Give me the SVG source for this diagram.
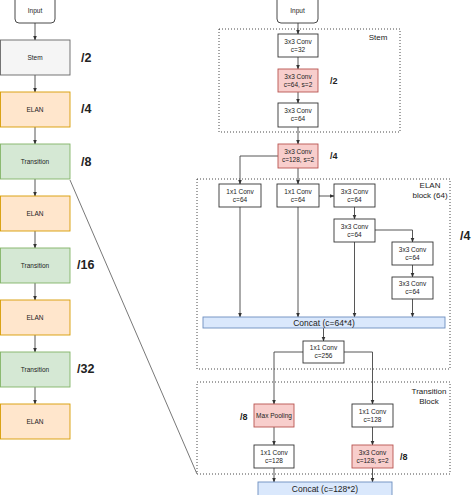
<svg xmlns="http://www.w3.org/2000/svg" width="474" height="495" viewBox="0 0 474 495">
<defs>
<marker id="ah" viewBox="0 0 10 10" refX="9" refY="5" markerWidth="5" markerHeight="5" orient="auto" markerUnits="userSpaceOnUse"><path d="M0,1 L10,5 L0,9 Z" fill="#333"/></marker>
<style>
text{font-family:"Liberation Sans",Arial,sans-serif;fill:#222;text-anchor:middle;}
.t{font-size:6.5px;}
.lt{font-size:8px;}
.big{font-size:12.5px;font-weight:bold;text-anchor:start;}
.mid{font-size:9px;font-weight:bold;text-anchor:start;}
.w{fill:#fff;stroke:#333;stroke-width:0.9;}
.p{fill:#f8cecc;stroke:#b85450;stroke-width:0.9;}
.g{fill:#f5f5f5;stroke:#666;stroke-width:0.9;}
.o{fill:#ffe6cc;stroke:#d79b00;stroke-width:0.9;}
.gr{fill:#d5e8d4;stroke:#82b366;stroke-width:0.9;}
.b{fill:#dae8fc;stroke:#6c8ebf;stroke-width:0.9;}
.d{fill:none;stroke:#333;stroke-width:0.9;stroke-dasharray:1 2;}
.c{fill:none;stroke:#444;stroke-width:0.9;marker-end:url(#ah);}
</style>
</defs>
<rect width="474" height="495" fill="#fff"/>

<!-- dashed group frames -->
<g id="stem-block"><rect class="d" x="219" y="29" width="181" height="103"/><text class="lt" x="378" y="40">Stem</text></g>
<g id="elan-block"><rect class="d" x="197" y="179" width="253" height="190"/><text class="lt" x="430" y="188">ELAN</text><text class="lt" x="430" y="198">block (64)</text></g>
<g id="transition-block"><rect class="d" x="197" y="382" width="253" height="92"/><text class="lt" x="429" y="394">Transition</text><text class="lt" x="429" y="404">Block</text></g>

<!-- connectors -->
<g id="connectors">
<line class="c" x1="35" y1="23" x2="35" y2="40"/>
<line class="c" x1="35" y1="75" x2="35" y2="92"/>
<line class="c" x1="35" y1="127" x2="35" y2="144"/>
<line class="c" x1="35" y1="179" x2="35" y2="196"/>
<line class="c" x1="35" y1="231" x2="35" y2="248"/>
<line class="c" x1="35" y1="283" x2="35" y2="300"/>
<line class="c" x1="35" y1="335" x2="35" y2="352"/>
<line class="c" x1="35" y1="387" x2="35" y2="404"/>
<line x1="70" y1="180" x2="197" y2="474" stroke="#555" stroke-width="0.8"/>

<line class="c" x1="298" y1="23" x2="298" y2="34"/>
<line class="c" x1="298" y1="57" x2="298" y2="69"/>
<line class="c" x1="298" y1="92" x2="298" y2="103"/>
<line class="c" x1="298" y1="127" x2="298" y2="144"/>
<line class="c" x1="298" y1="168" x2="298" y2="184"/>
<path class="c" d="M278,156 L240,156 L240,184"/>
<line class="c" x1="319" y1="196" x2="334" y2="196"/>
<line class="c" x1="354.5" y1="207" x2="354.5" y2="219"/>
<path class="c" d="M375,230 L412.5,230 L412.5,242"/>
<line class="c" x1="412.5" y1="265" x2="412.5" y2="277"/>
<line class="c" x1="240" y1="207" x2="240" y2="317"/>
<line class="c" x1="298" y1="207" x2="298" y2="317"/>
<line class="c" x1="354.5" y1="242" x2="354.5" y2="317"/>
<line class="c" x1="412.5" y1="299" x2="412.5" y2="317"/>
<line class="c" x1="323.5" y1="328" x2="323.5" y2="341"/>
<path class="c" d="M303,352 L274,352 L274,404"/>
<path class="c" d="M344,352 L372.5,352 L372.5,404"/>
<line class="c" x1="274" y1="427" x2="274" y2="445"/>
<line class="c" x1="372.5" y1="427" x2="372.5" y2="445"/>
<line class="c" x1="274" y1="468" x2="274" y2="482"/>
<line class="c" x1="372.5" y1="468" x2="372.5" y2="482"/>
</g>

<!-- left column -->
<g id="l-input"><rect class="w" x="15" y="-6" width="40" height="29" rx="4"/><text class="t" x="35" y="13">Input</text></g>
<g id="l-stem"><rect class="g" x="0.5" y="40" width="69.5" height="35"/><text class="t" x="35" y="60">Stem</text></g>
<g id="l-elan1"><rect class="o" x="0.5" y="92" width="69.5" height="35"/><text class="t" x="35" y="112">ELAN</text></g>
<g id="l-trans1"><rect class="gr" x="0.5" y="144" width="69.5" height="35"/><text class="t" x="35" y="164">Transition</text></g>
<g id="l-elan2"><rect class="o" x="0.5" y="196" width="69.5" height="35"/><text class="t" x="35" y="216">ELAN</text></g>
<g id="l-trans2"><rect class="gr" x="0.5" y="248" width="69.5" height="35"/><text class="t" x="35" y="268">Transition</text></g>
<g id="l-elan3"><rect class="o" x="0.5" y="300" width="69.5" height="35"/><text class="t" x="35" y="320">ELAN</text></g>
<g id="l-trans3"><rect class="gr" x="0.5" y="352" width="69.5" height="35"/><text class="t" x="35" y="372">Transition</text></g>
<g id="l-elan4"><rect class="o" x="0.5" y="404" width="69.5" height="35"/><text class="t" x="35" y="424">ELAN</text></g>
<text class="big" x="81" y="62">/2</text>
<text class="big" x="81" y="113">/4</text>
<text class="big" x="81" y="166">/8</text>
<text class="big" x="77" y="269">/16</text>
<text class="big" x="77" y="373">/32</text>

<!-- right side -->
<g id="r-input"><rect class="w" x="277" y="-6" width="41" height="29" rx="4"/><text class="t" x="297.5" y="13">Input</text></g>
<g id="s1"><rect class="w" x="278" y="34" width="40" height="23"/><text class="t" x="298" y="44">3x3 Conv</text><text class="t" x="298" y="52">c=32</text></g>
<g id="s2"><rect class="p" x="278" y="69" width="40" height="23"/><text class="t" x="298" y="79">3x3 Conv</text><text class="t" x="298" y="87">c=64, s=2</text></g>
<g id="s3"><rect class="w" x="278" y="103" width="40" height="24"/><text class="t" x="298" y="113">3x3 Conv</text><text class="t" x="298" y="121">c=64</text></g>
<text class="mid" x="330" y="84">/2</text>
<g id="down"><rect class="p" x="278" y="144" width="40" height="24"/><text class="t" x="298" y="154">3x3 Conv</text><text class="t" x="298" y="162">c=128, s=2</text></g>
<text class="mid" x="330" y="159">/4</text>

<g id="e1"><rect class="w" x="219" y="184" width="42" height="23"/><text class="t" x="240" y="194">1x1 Conv</text><text class="t" x="240" y="202">c=64</text></g>
<g id="e2"><rect class="w" x="277" y="184" width="42" height="23"/><text class="t" x="298" y="194">1x1 Conv</text><text class="t" x="298" y="202">c=64</text></g>
<g id="e3"><rect class="w" x="334" y="184" width="41" height="23"/><text class="t" x="354.5" y="194">3x3 Conv</text><text class="t" x="354.5" y="202">c=64</text></g>
<g id="e4"><rect class="w" x="334" y="219" width="41" height="23"/><text class="t" x="354.5" y="229">3x3 Conv</text><text class="t" x="354.5" y="237">c=64</text></g>
<g id="e5"><rect class="w" x="392" y="242" width="41" height="23"/><text class="t" x="412.5" y="252">3x3 Conv</text><text class="t" x="412.5" y="260">c=64</text></g>
<g id="e6"><rect class="w" x="392" y="277" width="41" height="22"/><text class="t" x="412.5" y="286">3x3 Conv</text><text class="t" x="412.5" y="294">c=64</text></g>
<g id="concat1"><rect class="b" x="203" y="317" width="242" height="11"/><text x="324" y="325.5" style="font-size:8.5px">Concat (c=64*4)</text></g>
<text class="big" x="460" y="240">/4</text>
<g id="e7"><rect class="w" x="303" y="341" width="41" height="22"/><text class="t" x="323.5" y="350">1x1 Conv</text><text class="t" x="323.5" y="358">c=256</text></g>

<g id="mp"><rect class="p" x="254" y="404" width="40" height="23"/><text class="t" x="274" y="418">Max Pooling</text></g>
<text class="mid" x="240" y="420">/8</text>
<g id="t1"><rect class="w" x="352" y="404" width="41" height="23"/><text class="t" x="372.5" y="414">1x1 Conv</text><text class="t" x="372.5" y="422">c=128</text></g>
<g id="t2"><rect class="w" x="254" y="445" width="40" height="23"/><text class="t" x="274" y="455">1x1 Conv</text><text class="t" x="274" y="463">c=128</text></g>
<g id="t3"><rect class="p" x="352" y="445" width="41" height="23"/><text class="t" x="372.5" y="455">3x3 Conv</text><text class="t" x="372.5" y="463">c=128, s=2</text></g>
<text class="mid" x="400" y="460">/8</text>
<g id="concat2"><rect class="b" x="258" y="482" width="134" height="18"/><text x="325" y="492" style="font-size:8.5px">Concat (c=128*2)</text></g>
</svg>
